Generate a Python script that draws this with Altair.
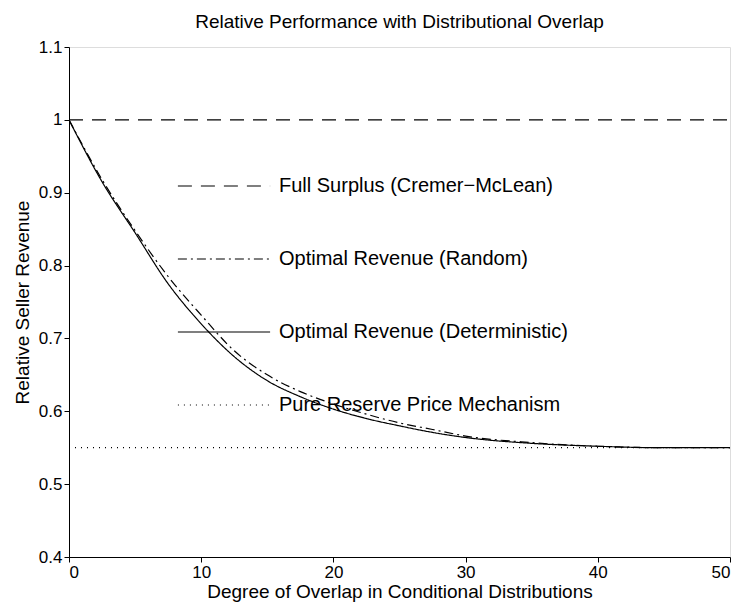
import altair as alt
import pandas as pd

overlap = [0, 2.5, 5, 7.5, 10, 12.5, 15, 17.5, 20, 22.5, 25, 27.5, 30, 35, 40, 45, 50]
deterministic = [1.0, 0.915, 0.845, 0.775, 0.72, 0.675, 0.642, 0.62, 0.603, 0.59, 0.58, 0.571, 0.564, 0.556, 0.552, 0.55, 0.55]
randomized = [1.0, 0.918, 0.848, 0.785, 0.732, 0.683, 0.65, 0.627, 0.61, 0.596, 0.584, 0.575, 0.566, 0.557, 0.552, 0.55, 0.55]
full_surplus = 1.0
reserve_price = 0.55

names = ["Full Surplus (Cremer\u2212McLean)", "Optimal Revenue (Random)",
         "Optimal Revenue (Deterministic)", "Pure Reserve Price Mechanism"]
dashes = [[14, 9], [9, 4, 2, 4], [1, 0], [1, 5]]

rows = []
for x, d, r in zip(overlap, deterministic, randomized):
    rows.append({"x": x, "y": full_surplus, "s": names[0]})
    rows.append({"x": x, "y": r, "s": names[1]})
    rows.append({"x": x, "y": d, "s": names[2]})
    rows.append({"x": x, "y": reserve_price, "s": names[3]})
df = pd.DataFrame(rows)

font = "Liberation Sans"
chart = alt.Chart(df).mark_line(color="black", strokeWidth=1.2, interpolate="monotone").encode(
    x=alt.X("x:Q", scale=alt.Scale(domain=[0, 50], nice=False),
            axis=alt.Axis(title="Degree of Overlap in Conditional Distributions", values=list(range(0, 51, 10)),
                          grid=False, tickColor="black", domainColor="black", labelColor="black",
                          titleColor="black", labelFontSize=17, titleFontSize=19, titleFontWeight="normal",
                          labelFont=font, titleFont=font, titlePadding=2)),
    y=alt.Y("y:Q", scale=alt.Scale(domain=[0.4, 1.1], nice=False),
            axis=alt.Axis(title="Relative Seller Revenue", values=[0.4, 0.5, 0.6, 0.7, 0.8, 0.9, 1.0, 1.1],
                          format="~g", grid=False, tickColor="black", domainColor="black", labelColor="black",
                          titleColor="black", labelFontSize=17, titleFontSize=19, titleFontWeight="normal",
                          labelFont=font, titleFont=font, titlePadding=6)),
    strokeDash=alt.StrokeDash("s:N", sort=names,
                              scale=alt.Scale(domain=names, range=dashes),
                              legend=alt.Legend(title=None, orient="none", legendX=108, legendY=92,
                                                symbolType="stroke", symbolSize=8500, symbolStrokeWidth=1.2,
                                                symbolStrokeColor="black", labelFontSize=20, labelFont=font,
                                                labelColor="black", rowPadding=16, labelLimit=500,
                                                labelOffset=8)),
).properties(
    width=730, height=598,
    autosize=alt.AutoSizeParams(type="fit", contains="padding"),
    title=alt.TitleParams("Relative Performance with Distributional Overlap", fontSize=19,
                          fontWeight="normal", font=font, color="black", offset=6),
).configure_view(stroke="black", strokeWidth=1).configure(background="white")

chart.save("out.html", embed_options={"renderer": "svg", "actions": False})
